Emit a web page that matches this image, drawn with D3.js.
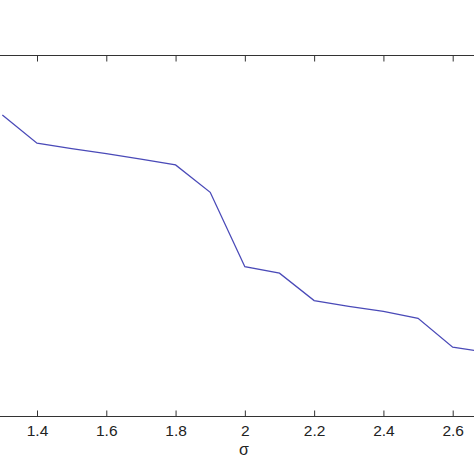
<!DOCTYPE html>
<html>
<body style="margin:0">
    <style>
        body {
            font: 15px "Liberation Sans", Arial, sans-serif;
            background: #fff;
        }
        .axis path, .axis line {
            stroke: #333;
        }
        .axis text {
            font: 15.5px "Liberation Sans", Arial, sans-serif;
            fill: #222;
        }
    </style>

    <script src="https://d3js.org/d3.v7.min.js"></script>

    <script>

var sigma = [1.3, 1.4, 1.5, 1.6, 1.7, 1.8, 1.9, 2.0, 2.1, 2.2, 2.3, 2.4, 2.5, 2.6, 2.7]
var values = [0.835, 0.757, 0.742, 0.728, 0.713, 0.697, 0.621, 0.415, 0.397, 0.321, 0.305, 0.291, 0.272, 0.192, 0.178]
var xTicks = [1.4, 1.6, 1.8, 2.0, 2.2, 2.4, 2.6]

var width = 474,
    height = 474;

var svg = d3.select("body")
    .append("svg")
    .attr("width", width)
    .attr("height", height)

// axes box runs off both sides of the picture
var x = d3.scaleLinear()
    .domain([1.4, 2.6])
    .range([37, 452.7])

var y = d3.scaleLinear()
    .domain([0, 1])
    .range([416.5, 55.5])

var yTop = y(1), yBottom = y(0);

svg.append("g")
    .attr("class", "axis")
    .attr("transform", "translate(0," + yBottom + ")")
    .call(d3.axisBottom(x)
        .tickValues(xTicks)
        .tickSizeInner(-6)
        .tickSizeOuter(0)
        .tickPadding(8)
        .tickFormat(d3.format("")))
    .call(function(g) { g.select(".domain").attr("d", "M-200,0H700"); })

svg.append("g")
    .attr("class", "axis")
    .attr("transform", "translate(0," + yTop + ")")
    .call(d3.axisTop(x)
        .tickValues(xTicks)
        .tickSizeInner(-6)
        .tickSizeOuter(0)
        .tickFormat(""))
    .call(function(g) { g.select(".domain").attr("d", "M-200,0H700"); })

svg.append("text")
    .attr("x", x(2.0) - 1)
    .attr("y", 455)
    .attr("text-anchor", "middle")
    .style("font", "16px 'Liberation Sans', Arial, sans-serif")
    .style("fill", "#222")
    .text("σ")

var line = d3.line()
    .x(function(d, i) { return x(sigma[i]); })
    .y(function(d) { return y(d); })

svg.append("path")
    .datum(values)
    .attr("d", line)
    .attr("fill", "none")
    .attr("stroke", "#4a4ab8")
    .attr("stroke-width", 1.3)

    </script>
</body>
</html>
